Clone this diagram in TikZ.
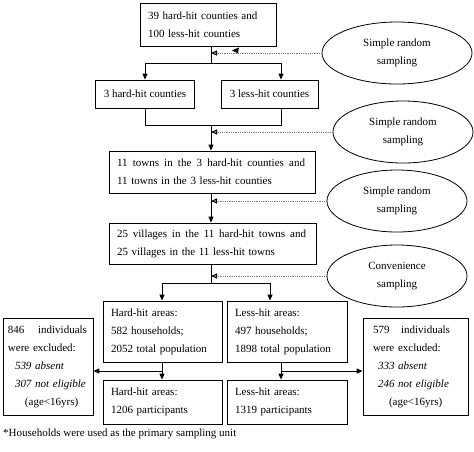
\documentclass[tikz,border=0pt]{standalone}
\usepackage{fontspec}
\setmainfont{Liberation Serif}
\usetikzlibrary{shapes.geometric,arrows.meta}
\newcommand{\spreadline}[2]{\makebox[#1][s]{\spaceskip=0pt\relax #2}}

\begin{document}
\begin{tikzpicture}[x=1pt, y=-1pt,
  font=\fontsize{11}{18}\selectfont,
  stage node/.style={draw, line width=0.8pt, inner xsep=8pt, inner ysep=0pt, align=left},
  sampling node/.style={ellipse, draw, line width=0.8pt, inner sep=0pt,
    minimum width=140pt, minimum height=62pt, align=center},
  link/.style={line width=1pt, line cap=rect},
  flow/.style={line width=1pt, line cap=rect, -{Triangle[length=6pt,width=5pt]}},
  pick/.style={gray, densely dotted, line width=0.8pt,
    -{Triangle[length=6pt,width=5pt,color=black]}}]
  \useasboundingbox (0,0) rectangle (474,451);

  % stages
  \node[stage node, text width=120pt, minimum height=43pt] (n0) at (208,24.5)
    {39 hard-hit counties and\\100 less-hit counties};
  \node[stage node, minimum width=96pt, minimum height=28pt] (n1) at (145,94) {3 hard-hit counties};
  \node[stage node, minimum width=97pt, minimum height=28pt] (n2) at (269.5,94) {3 less-hit counties};
  \node[stage node, text width=190pt, minimum height=42pt] (n3) at (212,172)
    {\spreadline{188pt}{11 towns in the 3 hard-hit counties and}\\11 towns in the 3 less-hit counties};
  \node[stage node, text width=191pt, minimum height=41pt] (n4) at (212.5,243.5)
    {\spreadline{189pt}{25 villages in the 11 hard-hit towns and}\\25 villages in the 11 less-hit towns};
  \node[stage node, text width=103pt, minimum height=61pt] (n5) at (162.5,331.5)
    {Hard-hit areas:\\582 households;\\2052 total population};
  \node[stage node, text width=104pt, minimum height=61pt] (n6) at (287,331.5)
    {Less-hit areas:\\497 households;\\1898 total population};
  \node[stage node, text width=103pt, minimum height=44pt] (n7) at (162.5,402)
    {Hard-hit areas:\\1206 participants};
  \node[stage node, text width=104pt, minimum height=44pt] (n8) at (287,402)
    {Less-hit areas:\\1319 participants};
  \node[stage node, inner xsep=5pt, text width=80pt, minimum height=97pt] (n9) at (48,366.5)
    {\spreadline{79pt}{846 individuals}\\were excluded:\\
     \hspace*{7pt}\textit{539 absent}\\\hspace*{7pt}\textit{307 not eligible}\\
     \hspace*{17pt}(age<16yrs)};
  \node[stage node, inner xsep=10pt, text width=85pt, minimum height=97pt] (n10) at (415.5,366.5)
    {\spreadline{77pt}{579 individuals}\\were excluded:\\
     \hspace*{5pt}\textit{333 absent}\\\hspace*{5pt}\textit{246 not eligible}\\
     \hspace*{16pt}(age<16yrs)};

  % sampling methods
  \node[sampling node, minimum width=150pt] (e1) at (397,53) {Simple random\\sampling};
  \node[sampling node] (e2) at (403,132) {Simple random\\sampling};
  \node[sampling node] (e3) at (397,201) {Simple random\\sampling};
  \node[sampling node] (e4) at (397,276) {Convenience\\sampling};

  \node[anchor=west, inner sep=0pt] (note) at (3,434)
    {*Households were used as the primary sampling unit};

  % junctions
  \coordinate (s0) at (211,63);
  \coordinate (s0l) at (145,63);
  \coordinate (s0r) at (281,63);
  \coordinate (s1) at (211,125);
  \coordinate (s1l) at (145,125);
  \coordinate (s1r) at (281,125);
  \coordinate (s2) at (211,283);
  \coordinate (s2l) at (162,283);
  \coordinate (s2r) at (270,283);
  \coordinate (s3l) at (162,371);
  \coordinate (s3r) at (281,371);

  \path (n0.south -| s0) [link] edge (s0);
  \path (s0l) [link] edge (s0r);
  \path (s0l) [flow] edge (n1.north -| s0l);
  \path (s0r) [flow] edge (n2.north -| s0r);
  \path (n1.south -| s1l) [link] edge (s1l);
  \path (n2.south -| s1r) [link] edge (s1r);
  \path (s1l) [link] edge (s1r);
  \path (s1) [flow] edge (n3.north -| s1);
  \path (n3.south -| s1) [flow] edge (n4.north -| s1);
  \path (n4.south -| s2) [link] edge (s2);
  \path (s2l) [link] edge (s2r);
  \path (s2l) [flow] edge (n5.north -| s2l);
  \path (s2r) [flow] edge (n6.north -| s2r);
  \path (n5.south -| s3l) [flow] edge (n7.north -| s3l);
  \path (n6.south -| s3r) [flow] edge (n8.north -| s3r);
  \path (s3l) [flow] edge (n9.east |- s3l);
  \path (s3r) [flow] edge (n10.west |- s3r);

  \path (e1.west) [pick] edge (e1.west -| s0);
  \path (e2.west) [pick] edge (e2.west -| s1);
  \path (e3.west) [pick] edge (e3.west -| s1);
  \path (e4.west) [pick] edge (e4.west -| s2);

  % stray tip under the first box
  \fill ([shift={(24,4)}]n0.south) -- ++(7,-3) -- ++(-1,6) -- cycle;
\end{tikzpicture}
\end{document}
